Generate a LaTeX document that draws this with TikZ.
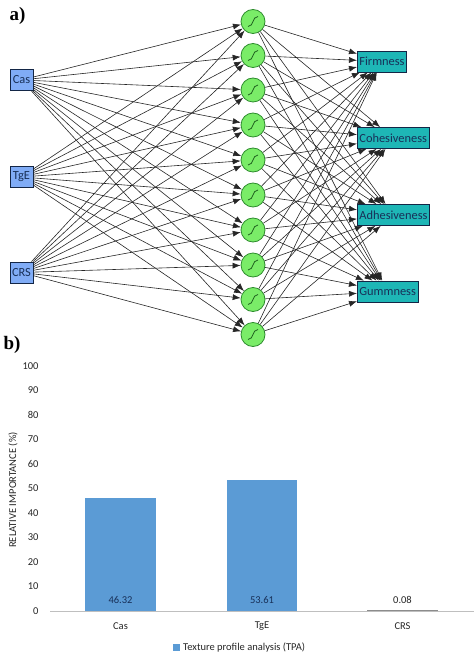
\documentclass[tikz,border=0pt]{standalone}
\usepackage{fontspec}
\setmainfont{Carlito}
\newfontfamily\labelfont{Liberation Serif}
\usetikzlibrary{positioning}
\usetikzlibrary{arrows.meta}
\definecolor{inblue}{RGB}{128,172,246}
\definecolor{hidgreen}{RGB}{122,236,104}
\definecolor{hidedge}{RGB}{46,140,46}
\definecolor{outteal}{RGB}{30,182,182}
\definecolor{boxtext}{RGB}{24,48,88}
\definecolor{barblue}{RGB}{91,155,213}
\tikzset{
    innode/.style = {rectangle, draw=boxtext!80!black, line width=0.8pt, fill=inblue, text=boxtext, minimum width=23pt, minimum height=21pt, inner sep=1pt, font=\fontsize{12.4}{13}\selectfont},
    hidnode/.style = {circle, draw=hidedge, line width=0.8pt, fill=hidgreen, minimum size=24pt, inner sep=0pt},
    outnode/.style = {rectangle, draw=boxtext!80!black, line width=0.8pt, fill=outteal, text=boxtext, minimum height=21pt, inner xsep=2pt, inner ysep=1pt, anchor=west, font=\fontsize{12.4}{13}\selectfont},
    edgen/.style = {-{Latex[length=8pt,width=6pt]}, line width=0.6pt, black!85},
    sigm/.style = {line width=0.8pt, hidedge!70!black},
    tick/.style = {anchor=east, text=black!85, font=\fontsize{10.5}{12}\selectfont},
    catlab/.style = {text=black!85, font=\fontsize{10.5}{12}\selectfont},
    vallab/.style = {text=boxtext, font=\fontsize{10.5}{12}\selectfont},
    partlab/.style = {anchor=west, font=\labelfont\bfseries\fontsize{19}{20}\selectfont}
}

\begin{document}
\begin{tikzpicture}[x=1pt,y=-1pt]
\useasboundingbox (0,0) rectangle (474,655);
% a) network
\node[partlab] at (6,16) (pa) {a)};
\node[innode] at (21.5,80) (i1) {Cas};
\node[innode] at (21.5,177) (i2) {TgE};
\node[innode] at (21.5,272.5) (i3) {CRS};
\foreach \k/\y in {1/21.5,2/55.5,3/90,4/125,5/160,6/195,7/230,8/265,9/299.5,10/334.5}
  \node[hidnode] at (253,\y) (h\k) {};
\node[outnode] at (357,61.5) (o1) {Firmness};
\node[outnode] at (357,138) (o2) {Cohesiveness};
\node[outnode] at (357,215) (o3) {Adhesiveness};
\node[outnode] at (357,291.5) (o4) {Gummness};
\foreach \i in {1,2,3}
  \foreach \k in {1,...,10}
    \draw[edgen] (i\i) -- (h\k);
\foreach \k in {1,...,10}
  \foreach \o in {1,2,3,4}
    \draw[edgen] (h\k) -- (o\o);
% sigmoid marks
\foreach \k in {1,...,10}
  \draw[sigm] ([shift={(-5,5)}]h\k.center) .. controls ([shift={(1,5)}]h\k.center) and ([shift={(-1,-5)}]h\k.center) .. ([shift={(5,-5)}]h\k.center);

% b) bar chart
\node[partlab] at (0,345) (pb) {b)};
\foreach \v in {0,10,...,100}
  \node[tick] at (42,611-2.45*\v) (t\v) {\v};
\node[catlab, rotate=90] at (13,490) (ytitle) {RELATIVE IMPORTANCE (\%)};
\fill[barblue] (85,611) rectangle (156,611-2.45*46.32);
\fill[barblue] (227,611) rectangle (297,611-2.45*53.61);
\fill[black!45] (367,611) rectangle (438,610);
\draw[black!25, line width=0.8pt] (50,611) -- (474,611);
\node[vallab] at (120.5,600) (v1) {46.32};
\node[vallab] at (262,600) (v2) {53.61};
\node[catlab] at (402.5,600) (v3) {0.08};
\node[catlab] at (120.5,626) (c1) {Cas};
\node[catlab] at (262,626) (c2) {TgE};
\node[catlab] at (402.5,626) (c3) {CRS};
\fill[barblue] (173,643.5) rectangle (180,650.5);
\node[catlab, anchor=west, inner sep=0pt, font=\fontsize{10.5}{12}\selectfont] at (183,647) (leg) {Texture profile analysis (TPA)};
\end{tikzpicture}
\end{document}
